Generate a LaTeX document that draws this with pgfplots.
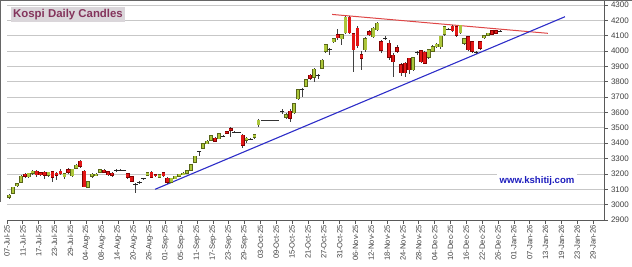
\documentclass[border=0pt]{standalone}
\usepackage{fontspec}
\setmainfont{Liberation Sans}
\usepackage{pgfplots}
\usepackage{pgfplotstable}
\pgfplotsset{compat=1.18}

\definecolor{upfill}{RGB}{172,198,58}
\definecolor{upedge}{RGB}{88,102,24}
\definecolor{dnfill}{RGB}{226,22,22}
\definecolor{dnedge}{RGB}{128,0,0}
\definecolor{titlebg}{RGB}{218,214,218}
\definecolor{titlefg}{RGB}{132,52,92}
\definecolor{wmblue}{RGB}{30,30,190}
\definecolor{tred}{RGB}{222,70,70}
\definecolor{tblue}{RGB}{45,45,200}

% up candles: x open high low close
\pgfplotstableread{
x o h l c
0 3050 3072 3040 3060
1 3075 3117 3068 3112
2 3122 3142 3112 3136
3 3145 3192 3138 3185
5 3182 3206 3172 3203
6 3203 3224 3196 3217
10 3192 3215 3180 3210
14 3182 3205 3165 3200
16 3188 3235 3180 3230
17 3238 3265 3232 3256
20 3115 3155 3110 3148
21 3185 3205 3172 3198
22 3193 3203 3188 3199
23 3212 3235 3205 3227
35 3190 3215 3185 3209
38 3180 3200 3172 3196
41 3145 3175 3140 3172
42 3170 3188 3165 3184
43 3186 3202 3180 3198
44 3196 3210 3190 3205
45 3205 3222 3200 3219
46 3225 3265 3222 3260
47 3275 3318 3270 3314
49 3368 3398 3362 3395
50 3398 3418 3395 3412
51 3420 3452 3415 3449
53 3430 3465 3425 3461
60 3420 3440 3400 3431
62 3440 3460 3430 3455
63 3520 3555 3505 3549
70 3570 3595 3555 3584
72 3600 3665 3590 3657
73 3690 3752 3680 3748
75 3772 3820 3765 3814
77 3830 3888 3800 3883
79 3890 3950 3885 3941
80 3998 4048 3990 4042
82 4060 4086 4050 4081
84 4080 4112 4040 4107
85 4120 4226 4110 4221
90 4010 4095 3995 4080
92 4095 4155 4085 4150
93 4140 4190 4130 4180
102 3880 3960 3870 3955
106 3960 4015 3950 4010
107 4000 4040 3995 4030
108 4030 4050 4020 4045
109 4030 4100 4015 4098
110 4110 4165 4100 4158
114 4120 4172 4110 4167
115 4050 4085 4040 4080
120 4088 4105 4080 4100
121 4105 4120 4100 4115
}\upTable

% down candles: x open high low close
\pgfplotstableread{
x o h l c
4 3198 3205 3172 3185
7 3218 3228 3182 3195
8 3207 3214 3188 3198
9 3210 3216 3165 3192
11 3215 3222 3150 3178
12 3203 3210 3160 3192
13 3217 3230 3195 3200
15 3228 3236 3200 3212
18 3282 3290 3240 3250
19 3218 3225 3112 3118
24 3225 3232 3205 3210
25 3215 3220 3185 3195
26 3205 3210 3180 3190
30 3202 3208 3170 3177
31 3182 3186 3145 3152
36 3210 3216 3175 3180
37 3195 3200 3180 3187
39 3206 3212 3182 3188
40 3172 3178 3135 3145
52 3432 3440 3408 3414
55 3476 3482 3462 3466
56 3496 3505 3440 3484
59 3452 3458 3368 3388
71 3608 3620 3540 3562
76 3842 3852 3815 3823
83 4105 4146 4070 4088
86 4221 4226 4112 4121
87 4112 4118 3867 4008
88 4150 4162 4020 4035
89 3978 4000 3880 3955
91 4125 4135 4100 4108
94 4062 4072 3990 4005
96 4052 4070 3940 3960
97 3972 3985 3830 3930
98 4022 4040 3985 3998
99 3912 3922 3840 3858
100 3922 3930 3830 3858
101 3952 3958 3850 3878
104 4002 4010 3925 3932
105 3992 3998 3915 3922
112 4162 4170 4125 4132
113 4160 4165 4095 4102
116 4092 4098 4000 4008
117 4062 4068 3990 3998
119 4060 4066 4010 4020
122 4132 4138 4105 4110
123 4132 4138 4110 4116
}\dnTable

% doji: x high low close
\pgfplotstableread{
x h l c
27 3234 3214 3224
28 3232 3218 3225
29 3228 3222 3225
32 3140 3079 3130
33 3152 3135 3145
34 3175 3160 3168
48 3352 3320 3344
54 3452 3438 3445
57 3478 3465 3472
58 3476 3465 3471
61 3432 3420 3425
69 3620 3590 3606
74 3760 3700 3750
78 3852 3820 3845
81 4022 3975 4008
95 4098 4070 4085
103 3998 3975 3990
111 4150 4135 4142
118 4000 3982 3993
124 4138 4125 4130
}\dojiTable

\pgfplotsset{
  candlebar/.style n args={2}{draw=none, mark=none, forget plot,
    error bars/.cd, y dir=both, y explicit, error mark=none,
    error bar style={draw=#1, line width=#2}},
}

\begin{document}
\begin{tikzpicture}
\begin{axis}[
  at={(7pt,46pt)}, anchor=south west,
  scale only axis, width=597pt, height=220pt,
  xmin=0, xmax=150.76, ymin=2900, ymax=4333,
  axis x line*=bottom, axis y line*=right,
  axis line style={black!65, line width=0.8pt},
  ytick={2900,3000,...,4300},
  ymajorgrids,
  grid style={black!22, line width=0.8pt},
  xtick={0,4,...,148},
  xticklabels={07-Jul-25,11-Jul-25,17-Jul-25,23-Jul-25,29-Jul-25,04-Aug-25,08-Aug-25,14-Aug-25,20-Aug-25,26-Aug-25,01-Sep-25,05-Sep-25,11-Sep-25,17-Sep-25,23-Sep-25,29-Sep-25,03-Oct-25,09-Oct-25,15-Oct-25,21-Oct-25,27-Oct-25,31-Oct-25,06-Nov-25,12-Nov-25,18-Nov-25,24-Nov-25,28-Nov-25,04-Dec-25,10-Dec-25,16-Dec-25,22-Dec-25,26-Dec-25,01-Jan-26,07-Jan-26,13-Jan-26,19-Jan-26,23-Jan-26,29-Jan-26},
  xticklabel style={rotate=90, anchor=east, font=\fontsize{7.6}{8}\selectfont, text=black!75, inner sep=1.5pt},
  yticklabel style={font=\fontsize{8}{9}\selectfont, text=black!75},
  tick align=outside, major tick length=3.5pt,
  tick style={black!65, line width=0.7pt},
  scaled y ticks=false,
  /pgf/number format/assume math mode=true,
  /pgf/number format/1000 sep={},
]
% holiday connector
\addplot[black!80, line width=0.9pt] coordinates {(64.2,3546) (68.8,3546)};
% trend lines
\addplot[tred, line width=1pt] coordinates {(82.1,4239) (136.6,4116)};
\addplot[tblue, line width=1.1pt] coordinates {(37.4,3100) (140.9,4224)};
% wicks
\addplot[candlebar={black!75}{0.6pt}]
  table[x expr=\thisrow{x}+0.5, y expr=(\thisrow{h}+\thisrow{l})/2, y error expr=(\thisrow{h}-\thisrow{l})/2] {\upTable};
\addplot[candlebar={black!75}{0.6pt}]
  table[x expr=\thisrow{x}+0.5, y expr=(\thisrow{h}+\thisrow{l})/2, y error expr=(\thisrow{h}-\thisrow{l})/2] {\dnTable};
\addplot[candlebar={black!75}{0.6pt}]
  table[x expr=\thisrow{x}+0.5, y expr=(\thisrow{h}+\thisrow{l})/2, y error expr=(\thisrow{h}-\thisrow{l})/2] {\dojiTable};
% bodies: up
\addplot[candlebar={upedge}{3.8pt}]
  table[x expr=\thisrow{x}+0.5, y expr=(\thisrow{o}+\thisrow{c})/2, y error expr=abs(\thisrow{c}-\thisrow{o})/2+3.5] {\upTable};
\addplot[candlebar={upfill}{2.6pt}]
  table[x expr=\thisrow{x}+0.5, y expr=(\thisrow{o}+\thisrow{c})/2, y error expr=abs(\thisrow{c}-\thisrow{o})/2] {\upTable};
% bodies: down
\addplot[candlebar={dnedge}{3.8pt}]
  table[x expr=\thisrow{x}+0.5, y expr=(\thisrow{o}+\thisrow{c})/2, y error expr=abs(\thisrow{c}-\thisrow{o})/2+3.5] {\dnTable};
\addplot[candlebar={dnfill}{2.6pt}]
  table[x expr=\thisrow{x}+0.5, y expr=(\thisrow{o}+\thisrow{c})/2, y error expr=abs(\thisrow{c}-\thisrow{o})/2] {\dnTable};
% doji crosses
\addplot[only marks, mark=-, mark size=2.2pt, black!85, mark options={line width=0.8pt}]
  table[x expr=\thisrow{x}+0.5, y=c] {\dojiTable};
\end{axis}
\pgfresetboundingbox
\useasboundingbox (0,0) rectangle (632pt,266pt);
% frame edges
\draw[black!60, line width=1.4pt] (0,265.3pt) -- (632pt,265.3pt);
\draw[black!60, line width=1.4pt] (0.7pt,266pt) -- (0.7pt,64pt);
% title
\node[fill=titlebg, text=titlefg, font=\bfseries\fontsize{11.4}{12}\selectfont, inner xsep=2pt, inner ysep=2.2pt, anchor=north west] at (11pt,259pt) {Kospi Daily Candles};
% watermark
\node[fill=white, text=wmblue, font=\bfseries\fontsize{9.6}{11}\selectfont, inner xsep=3pt, inner ysep=2.5pt] at (537pt,85pt) {www.kshitij.com};
\end{tikzpicture}
\end{document}
